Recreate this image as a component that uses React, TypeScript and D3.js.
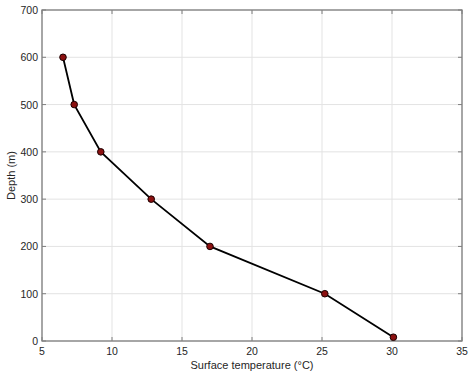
import React from "react";
import * as d3 from "d3";

const temperature = [6.5, 7.3, 9.2, 12.8, 17.0, 25.2, 30.1];
const depth = [600, 500, 400, 300, 200, 100, 8];
const xTicks = [5, 10, 15, 20, 25, 30, 35];
const yTicks = [0, 100, 200, 300, 400, 500, 600, 700];

const App = () => {
  const width = 474;
  const height = 375;
  const margin = { top: 10, right: 12, bottom: 34, left: 42 };
  const font = "Liberation Sans, Arial, sans-serif";

  const xScale = d3.scaleLinear().domain([5, 35]).range([margin.left, width - margin.right]);
  const yScale = d3.scaleLinear().domain([0, 700]).range([height - margin.bottom, margin.top]);

  const pts = temperature.map((t, i) => [xScale(t), yScale(depth[i])] as [number, number]);
  const line = d3.line()(pts) || "";

  const x0 = margin.left;
  const x1 = width - margin.right;
  const y0 = height - margin.bottom;
  const y1 = margin.top;
  const axisColor = "#7f7f7f";

  return (
    <svg width={width} height={height} style={{ position: "absolute", left: 0, top: 0, background: "#fff" }}>
      {/* grid */}
      {xTicks.map((t) => (
        <line key={"gx" + t} x1={xScale(t)} x2={xScale(t)} y1={y0} y2={y1} stroke="#e3e3e3" strokeWidth={1} />
      ))}
      {yTicks.map((t) => (
        <line key={"gy" + t} x1={x0} x2={x1} y1={yScale(t)} y2={yScale(t)} stroke="#e3e3e3" strokeWidth={1} />
      ))}
      {/* box */}
      <rect x={x0} y={y1} width={x1 - x0} height={y0 - y1} fill="none" stroke={axisColor} strokeWidth={1.3} />
      {/* ticks */}
      {xTicks.map((t) => (
        <g key={"tx" + t}>
          <line x1={xScale(t)} x2={xScale(t)} y1={y0} y2={y0 - 4} stroke={axisColor} />
          <line x1={xScale(t)} x2={xScale(t)} y1={y1} y2={y1 + 4} stroke={axisColor} />
          <text x={xScale(t)} y={y0 + 14} textAnchor="middle" fontFamily={font} fontSize={10.5} fill="#262626">{t}</text>
        </g>
      ))}
      {yTicks.map((t) => (
        <g key={"ty" + t}>
          <line x1={x0} x2={x0 + 4} y1={yScale(t)} y2={yScale(t)} stroke={axisColor} />
          <line x1={x1} x2={x1 - 4} y1={yScale(t)} y2={yScale(t)} stroke={axisColor} />
          <text x={x0 - 4} y={yScale(t) + 4} textAnchor="end" fontFamily={font} fontSize={10.5} fill="#262626">{t}</text>
        </g>
      ))}
      {/* labels */}
      <text x={(x0 + x1) / 2} y={y0 + 28} textAnchor="middle" fontFamily={font} fontSize={11} fill="#262626">Surface temperature (°C)</text>
      <text transform={`translate(15, ${(y0 + y1) / 2}) rotate(-90)`} textAnchor="middle" fontFamily={font} fontSize={11} fill="#262626">Depth (m)</text>
      {/* data */}
      <path d={line} fill="none" stroke="#000" strokeWidth={1.8} />
      {pts.map((p, i) => (
        <circle key={i} cx={p[0]} cy={p[1]} r={3.3} fill="#8b1010" stroke="#1a0000" strokeWidth={1} />
      ))}
    </svg>
  );
};

export default App;
